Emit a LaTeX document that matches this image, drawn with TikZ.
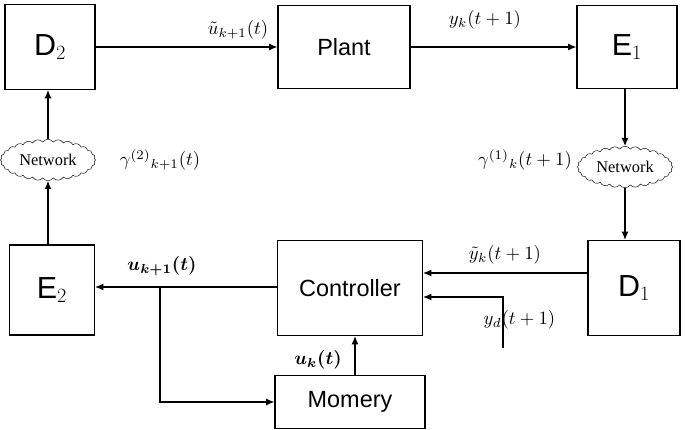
\documentclass[tikz,border=0pt]{standalone}
\usepackage{bm}
\usepackage{fontspec}
\setmainfont{Liberation Sans}
\newfontfamily\serifnet{Liberation Serif}
\usetikzlibrary{shapes.symbols,arrows.meta}
\begin{document}
\begin{tikzpicture}[x=0.03cm,y=-0.03cm,
  blk/.style={draw,line width=1pt,inner sep=0pt},
  net/.style={draw,cloud,cloud puffs=28,cloud puff arc=110,aspect=2.3,minimum width=95\unitlength,inner sep=1pt,font=\fontsize{14}{16}\selectfont\serifnet},
  arr/.style={-{Latex[length=7pt,width=6pt]},line width=1pt},
  lab/.style={scale=1.6}]
\setlength{\unitlength}{0.03cm}
\useasboundingbox (0,0) rectangle (685,430);
\node[blk,minimum width=90\unitlength,minimum height=85\unitlength,font=\fontsize{26}{28}\selectfont] (d2) at (50,47) {D$_2$};
\node[blk,minimum width=132\unitlength,minimum height=83\unitlength,font=\fontsize{20}{24}\selectfont] (pl) at (344,47) {Plant};
\node[blk,minimum width=100\unitlength,minimum height=83\unitlength,font=\fontsize{26}{28}\selectfont] (e1) at (627,47) {E$_1$};
\node[net] (nl) at (48,160) {Network};
\node[net] (nr) at (625,167) {Network};
\node[blk,minimum width=85\unitlength,minimum height=90\unitlength,font=\fontsize{26}{28}\selectfont] (e2) at (52,290) {E$_2$};
\node[blk,minimum width=145\unitlength,minimum height=95\unitlength,font=\fontsize{20}{24}\selectfont] (ct) at (350,288) {Controller};
\node[blk,minimum width=92\unitlength,minimum height=95\unitlength,font=\fontsize{26}{28}\selectfont] (d1) at (634,288) {D$_1$};
\node[blk,minimum width=150\unitlength,minimum height=53\unitlength,font=\fontsize{20}{24}\selectfont] (mo) at (350,402) {Momery};
\coordinate (yd) at (503,348);
\coordinate (br) at (160,287);
\draw[arr] (e1.south -| nr.north) -- (nr.north);
\draw[arr] (d2.east) -- (pl.west);
\draw[arr] (pl.east) -- (e1.west);
\draw[arr] (nr.south) -- (nr.south |- d1.north);
\draw[arr] (d1.west |- 0,273) -- (ct.east |- 0,273);
\draw[arr] (yd) |- (ct.east |- 0,297);
\draw[arr] (ct.west |- br) -- (e2.east |- br);
\draw[arr] (br) |- (mo.west);
\draw[arr] (mo.north -| 355,0) -- (ct.south -| 355,0);
\draw[arr] (e2.north -| nl.south) -- (nl.south);
\draw[arr] (nl.north) -- (nl.north |- d2.south);
\node[lab] at (238,30) {$\tilde u_{k+1}(t)$};
\node[lab] at (485,20) {$y_k(t+1)$};
\node[lab] at (160,160) {$\gamma^{(2)}{}_{k+1}(t)$};
\node[lab] at (525,160) {$\gamma^{(1)}{}_{k}(t+1)$};
\node[lab] at (505,255) {$\tilde y_k(t+1)$};
\node[lab,anchor=west] at (477,320) {$y_d(t+1)$};
\node[lab] at (162,266) {$\bm{u_{k+1}(t)}$};
\node[lab] at (318,360) {$\bm{u_{k}(t)}$};
\end{tikzpicture}
\end{document}
